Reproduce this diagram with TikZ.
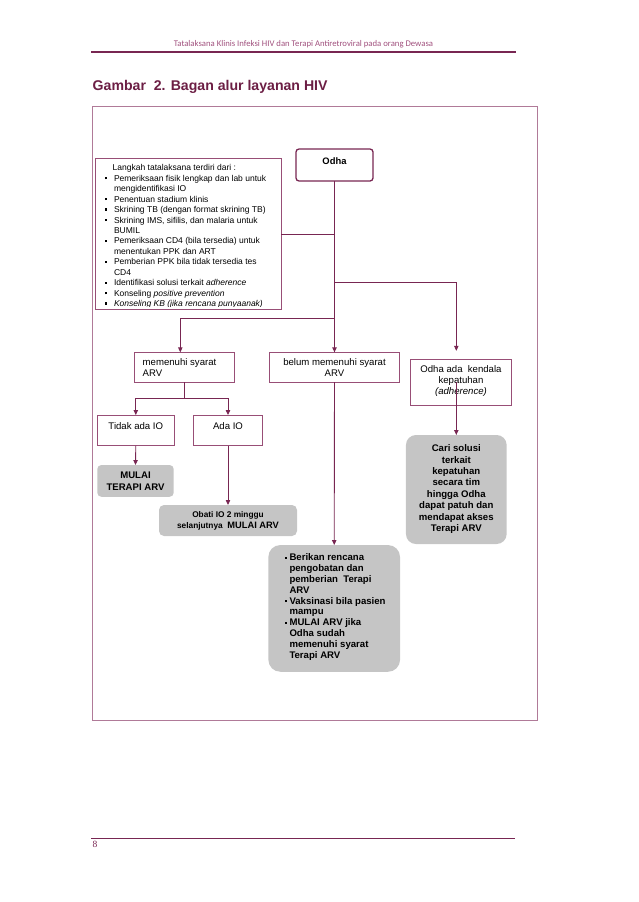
\documentclass[tikz,border=0pt]{standalone}
\usepackage{fontspec}
\setmainfont{Liberation Sans}
\newfontfamily\hdrfont{Carlito}
\newfontfamily\numfont{Liberation Serif}
\usetikzlibrary{arrows.meta,calc}
\definecolor{lnc}{RGB}{120,38,82}
\definecolor{ttlc}{RGB}{108,30,68}
\definecolor{hdrc}{RGB}{160,80,125}
\definecolor{framec}{RGB}{176,122,152}
\definecolor{boxc}{RGB}{152,78,118}
\definecolor{grayf}{RGB}{197,197,197}
\newcommand{\sqb}[1]{\makebox[#1][l]{\rule[1.9pt]{2.3pt}{2.3pt}}}
\tikzset{
  every node/.style={inner sep=0pt, outer sep=0pt},
  plainbox/.style={draw=boxc, line width=0.8pt, rectangle},
  odhabox/.style={draw=lnc, line width=1.3pt, rounded corners=3pt, rectangle},
  graybox/.style={fill=grayf, draw=none, rectangle},
  conn/.style={draw=lnc, line width=0.9pt},
  arr/.style={conn, -{Triangle[length=5pt,width=4.4pt]}},
  txt/.style={anchor=base west, text=black},
}
\begin{document}
\begin{tikzpicture}[x=1pt,y=-1pt]
\useasboundingbox (0,0) rectangle (638,902);
% header
\node[anchor=base, text=hdrc, font=\hdrfont\fontsize{8.7}{10}\selectfont] (hdr) at (303.5,46.7) {Tatalaksana Klinis Infeksi HIV dan Terapi Antiretroviral pada orang Dewasa};
\coordinate (hl1) at (91,52); \coordinate (hl2) at (516,52);
\draw[lnc, line width=1.6pt] (hl1) -- (hl2);
\node[anchor=base west, text=ttlc, font=\bfseries\fontsize{14.1}{16}\selectfont] (title) at (92.7,90) {Gambar\ \ 2. Bagan alur layanan HIV};
% frame
\coordinate (fr1) at (92.5,106.5); \coordinate (fr2) at (537.7,720);
\draw[framec, line width=1pt] (fr1) rectangle (fr2);
% footer
\coordinate (fl1) at (91,838.3); \coordinate (fl2) at (515,838.3);
\draw[lnc, line width=1.6pt] (fl1) -- (fl2);
\node[anchor=base west, text=lnc, font=\numfont\fontsize{9.5}{10}\selectfont] (pg) at (92.5,847.5) {8};

% boxes
\node[odhabox, minimum width=77, minimum height=32] (odha) at (334.5,165) {};
\node[plainbox, minimum width=186, minimum height=150.6] (steps) at (188,234) {};
\node[plainbox, minimum width=100, minimum height=29.7] (mem) at (184.3,367.2) {};
\node[plainbox, minimum width=130.7, minimum height=29.7] (belum) at (334.5,367.2) {};
\node[plainbox, minimum width=100.6, minimum height=45.7] (kend) at (461,382.2) {};
\node[plainbox, minimum width=77, minimum height=30.7] (tidak) at (135.8,430.4) {};
\node[plainbox, minimum width=69.4, minimum height=30.7] (ada) at (228,430.4) {};
\node[graybox, rounded corners=4pt, minimum width=76.4, minimum height=31.7] (mulai) at (135.5,480.9) {};
\node[graybox, rounded corners=5pt, minimum width=138, minimum height=31] (obati) at (228,520.5) {};
\node[graybox, rounded corners=12pt, minimum width=131.7, minimum height=126.7] (berikan) at (334.2,608.4) {};
\node[graybox, rounded corners=10pt, minimum width=100.7, minimum height=109] (cari) at (456.3,489.5) {};

% texts
\node[anchor=base, font=\bfseries\fontsize{9.4}{11}\selectfont] (todha) at (334.5,164.3) {Odha};
\begin{scope}
\clip (steps.north west) rectangle ($(steps.south east)+(0,-3.2)$);
\node[txt] (tsteps) at (105,170.7) {\parbox[t]{175pt}{\fontsize{8.5}{10.46}\selectfont\raggedright
\hspace*{7.7pt}Langkah tatalaksana terdiri dari :\\
\sqb{9pt}Pemeriksaan fisik lengkap dan lab untuk\\
\hspace*{9pt}mengidentifikasi IO\\
\sqb{9pt}Penentuan stadium klinis\\
\sqb{9pt}Skrining TB (dengan format skrining TB)\\
\sqb{9pt}Skrining IMS, sifilis, dan malaria untuk\\
\hspace*{9pt}BUMIL\\
\sqb{9pt}Pemeriksaan CD4 (bila tersedia) untuk\\
\hspace*{9pt}menentukan PPK dan ART\\
\sqb{9pt}Pemberian PPK bila tidak tersedia tes\\
\hspace*{9pt}CD4\\
\sqb{9pt}Identifikasi solusi terkait \textit{adherence}\\
\sqb{9pt}Konseling \textit{positive prevention}\\
\sqb{9pt}\textit{Konseling KB (jika rencana punyaanak)}\par}};
\end{scope}
\node[txt] (tmem) at (142.7,365.7) {\parbox[t]{90pt}{\fontsize{9.6}{11}\selectfont\raggedright memenuhi syarat\\ARV\par}};
\node[anchor=base, text=black] (tbelum) at (334.5,365.7) {\parbox[t]{128pt}{\fontsize{9.6}{11}\selectfont\centering belum memenuhi syarat\\ARV\par}};
\node[anchor=base, text=black] (tkend) at (461,372.7) {\parbox[t]{100pt}{\fontsize{9.6}{10.8}\selectfont\centering Odha ada\ \ kendala\\kepatuhan\\\textit{(adherence)}\par}};
\node[anchor=base, font=\fontsize{9.6}{11}\selectfont] (ttidak) at (135.8,429) {Tidak ada IO};
\node[anchor=base, font=\fontsize{9.6}{11}\selectfont] (tada) at (228,429) {Ada IO};
\node[anchor=base, text=black] (tmulai) at (135.5,478) {\parbox[t]{76pt}{\fontsize{9.6}{12}\selectfont\bfseries\centering MULAI\\TERAPI ARV\par}};
\node[anchor=base, text=black] (tobati) at (228,517.3) {\parbox[t]{136pt}{\fontsize{8.3}{11}\selectfont\bfseries\centering Obati IO 2 minggu\\selanjutnya\ \ {\fontsize{9.3}{11}\selectfont MULAI ARV}\par}};
\node[anchor=base, text=black] (tcari) at (456.3,451.7) {\parbox[t]{100pt}{\fontsize{9.6}{11.4}\selectfont\bfseries\centering Cari solusi\\terkait\\kepatuhan\\secara tim\\hingga Odha\\dapat patuh dan\\mendapat akses\\Terapi ARV\par}};
\node[txt] (tberikan) at (285,560.7) {\parbox[t]{112pt}{\fontsize{9.6}{10.85}\selectfont\bfseries\raggedright
\sqb{4.5pt}Berikan rencana\\
\hspace*{4.5pt}pengobatan dan\\
\hspace*{4.5pt}pemberian\ \ Terapi\\
\hspace*{4.5pt}ARV\\
\sqb{4.5pt}Vaksinasi bila pasien\\
\hspace*{4.5pt}mampu\\
\sqb{4.5pt}MULAI ARV jika\\
\hspace*{4.5pt}Odha sudah\\
\hspace*{4.5pt}memenuhi syarat\\
\hspace*{4.5pt}Terapi ARV\par}};

% connectors
\draw[arr] (odha.south) -- (belum.north);
\draw[conn] (steps.east) -- (steps.east -| odha.south);
\coordinate (rb) at ($(odha.south)+(0,101.7)$);
\coordinate (rt) at ($(cari.north |- kend.north)+(0,-8.5)$);
\draw[arr] (rb) -| (rt);
\coordinate (lb) at ($(odha.south)+(0,137.3)$);
\coordinate (lt) at ($(mem.north)+(-4,0)$);
\draw[arr] (lb) -| (lt);
\coordinate (mb) at ($(mem.south)+(0,16.7)$);
\draw[conn] (mem.south) -- (mb);
\draw[arr] (mb) -| (tidak.north);
\draw[arr] (mb) -| (ada.north);
\draw[arr] (tidak.south) -- (mulai.north);
\draw[arr] (ada.south) -- (obati.north);
\draw[arr] (belum.south) -- (berikan.north);
\coordinate (kc) at (kend.center -| cari.north);
\draw[arr] (kc) -- (cari.north);
\end{tikzpicture}
\end{document}
